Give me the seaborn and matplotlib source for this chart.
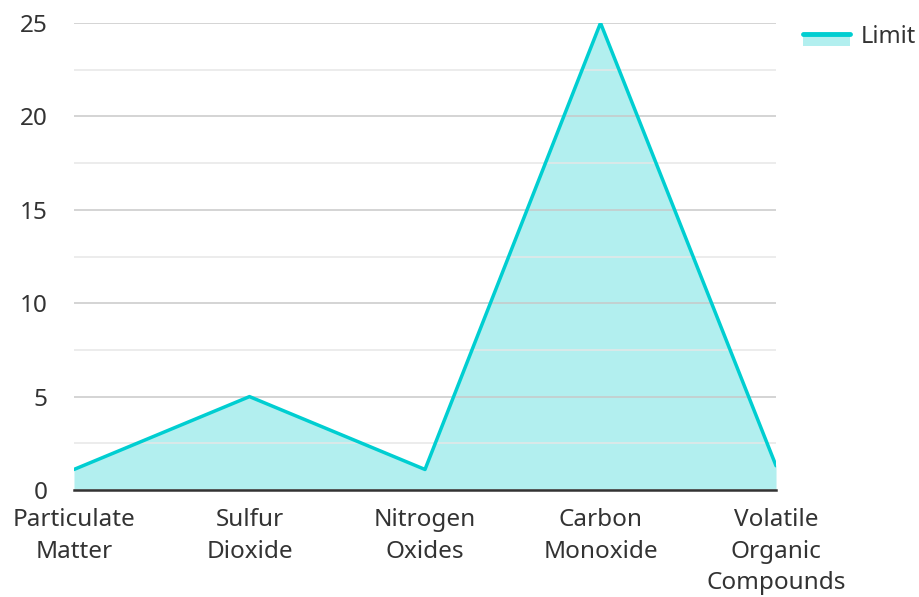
import matplotlib
matplotlib.use("Agg")
import matplotlib.pyplot as plt
import seaborn as sns
import pandas as pd
from matplotlib.patches import Rectangle
from matplotlib.lines import Line2D
from matplotlib.ticker import MultipleLocator

# --- data ---
pollutants = ["Particulate\nMatter", "Sulfur\nDioxide", "Nitrogen\nOxides",
              "Carbon\nMonoxide", "Volatile\nOrganic\nCompounds"]
limits = [1.1, 5, 1.1, 25, 1.3]
series_name = "Limit"

LINE = "#00CED1"
FILL = "#B2EFEF"
TXT = "#333333"

sns.set_theme(style="white")
plt.rcParams['font.family'] = ['Noto Sans', 'DejaVu Sans']


class AreaHandler:
    # legend key: light box with the line along its top edge
    def legend_artist(self, legend, orig_handle, fontsize, handlebox):
        x0, y0 = handlebox.xdescent, handlebox.ydescent
        w, h = handlebox.width, handlebox.height
        box = Rectangle((x0, y0 - h * 0.15), w, h * 0.75, facecolor=FILL, edgecolor='none',
                        transform=handlebox.get_transform())
        ln = Line2D([x0, x0 + w], [y0 + h * 0.6] * 2, color=LINE, linewidth=3.5,
                    transform=handlebox.get_transform())
        handlebox.add_artist(box)
        handlebox.add_artist(ln)
        return box


df = pd.DataFrame({"pollutant": pollutants, "limit": limits})
df["pos"] = range(len(df))

fig = plt.figure(figsize=(9.2, 5.97), dpi=100)
ax = fig.add_axes([0.0804, 0.1792, 0.8435 - 0.0804, 0.9615 - 0.1792])

ax.fill_between(df["pos"], df["limit"], color=FILL, zorder=1, linewidth=0)
sns.lineplot(data=df, x="pos", y="limit", ax=ax, color=LINE, linewidth=2.5, zorder=3)

ax.set_xlim(0, len(df) - 1)
ax.set_ylim(0, 25)
ax.yaxis.set_major_locator(MultipleLocator(5))
ax.yaxis.set_minor_locator(MultipleLocator(2.5))
ax.set_axisbelow(False)
# gridlines sit over the fill, slightly see-through
ax.grid(which='major', axis='y', color="#c8c8c8", linewidth=1.2, alpha=0.9, zorder=2)
ax.grid(which='minor', axis='y', color="#e6e6e6", linewidth=1.2, alpha=0.9, zorder=2)

ax.set_xticks(df["pos"])
ax.set_xticklabels(df["pollutant"], fontsize=17.5, color=TXT, linespacing=1.42)
ax.tick_params(axis='x', length=0, pad=13)
ax.tick_params(axis='y', which='both', length=0, pad=19, labelsize=17.5, labelcolor=TXT)
ax.set_xlabel("")
ax.set_ylabel("")

for s in ["top", "right", "left"]:
    ax.spines[s].set_visible(False)
ax.spines["bottom"].set_color(TXT)
ax.spines["bottom"].set_linewidth(1.8)
ax.spines["bottom"].set_zorder(4)

fig.legend([object()], [series_name], handler_map={object: AreaHandler()},
           loc='upper left', bbox_to_anchor=(0.855, 0.985), borderaxespad=0.3,
           frameon=False, fontsize=17, handlelength=2.0, handletextpad=0.45,
           labelcolor=TXT)

fig.savefig("out.png", dpi=100)
